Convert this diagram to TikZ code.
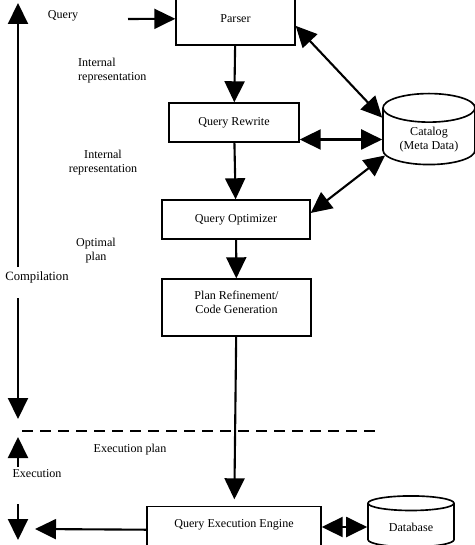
\documentclass[tikz,border=0pt]{standalone}
\usepackage{fontspec}
\setmainfont{Liberation Serif}
\usetikzlibrary{arrows.meta,shapes.geometric}
\begin{document}
\begin{tikzpicture}[x=0.03cm,y=-0.03cm,>={Triangle[length=0.63cm,width=0.6cm]},
    font=\fontsize{10.3}{12}\selectfont,
    box/.style={draw,line width=1.2pt,align=center},
    db/.style={draw,line width=1.4pt,cylinder,shape border rotate=90,align=center},
    arr/.style={line width=1.8pt}]
\useasboundingbox (0,0) rectangle (474,545);
\node[box,minimum width=3.57cm,minimum height=1.59cm] (parser) at (235.5,18.5) {Parser};
\node[box,minimum width=3.9cm,minimum height=1.17cm] (rewrite) at (234,122.5) {Query Rewrite};
\node[box,minimum width=4.44cm,minimum height=1.17cm] (optim) at (236,219.5) {Query Optimizer};
\node[box,minimum width=4.47cm,minimum height=1.71cm,text depth=0.3cm] (plan) at (236.5,307.5) {Plan Refinement/\\Code Generation};
\node[box,minimum width=5.22cm,minimum height=1.38cm,text depth=0.37cm,anchor=north] (engine) at (234,506) {Query Execution Engine};
\node[db,minimum width=2.76cm,minimum height=2.13cm,aspect=0.43] (catalog) at (429,139.5) {Catalog\\(Meta Data)};
\node[db,minimum width=2.58cm,minimum height=1.53cm,aspect=0.28] (database) at (411,527) {Database};
\node (query) at (63,16) {Query};
\node[align=left,anchor=west] (ir1) at (74,71) {Internal\\representation};
\node[align=center] (ir2) at (103,163) {Internal\\representation};
\node[align=center] (opt) at (96,251) {Optimal\\plan};
\node (execplan) at (130,450) {Execution plan};
\node[font=\fontsize{10.8}{13}\selectfont] (comp) at (37,277) {Compilation};
\node (exec) at (37,474) {Execution};
\coordinate (qin) at (128,19);
\coordinate (ctop) at (18,3);
\coordinate (cgap1) at (18,267);
\coordinate (cgap2) at (18,298);
\coordinate (cbot) at (18,419);
\coordinate (eup) at (18,467);
\coordinate (etop) at (18,437);
\coordinate (edown) at (18,504);
\coordinate (ebot) at (18,540);
\coordinate (out) at (35,529);
\coordinate (dl) at (22,431);
\coordinate (dr) at (376,431);
\draw[arr,->] (qin) -- (parser);
\draw[arr,->] (parser) -- (rewrite);
\draw[arr,->] (rewrite) -- (optim);
\draw[arr,->] (optim) -- (plan);
\draw[arr,->,shorten >=0.2cm] (plan) -- (engine);
\draw[arr,<->] (parser.-7) -- (catalog.155);
\draw[arr,<->] (rewrite.east |- catalog.west) -- (catalog.west);
\draw[arr,<->] (optim.5) -- (catalog.200);
\draw[arr,<->] (engine.east |- database.west) -- (database.west);
\draw[arr,->] (engine.west) -- (out);
\draw[arr,->] (cgap1) -- (ctop);
\draw[arr,->] (cgap2) -- (cbot);
\draw[arr,->] (eup) -- (etop);
\draw[arr,->] (edown) -- (ebot);
\draw[line width=1.5pt,dash pattern=on 0.33cm off 0.21cm] (dl) -- (dr);
\end{tikzpicture}
\end{document}
